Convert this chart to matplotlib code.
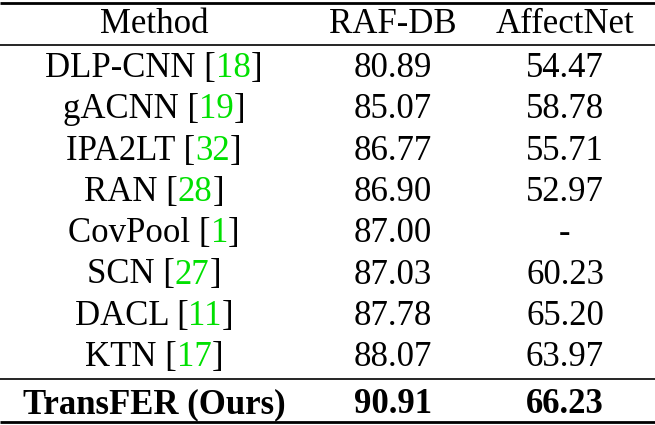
import matplotlib
matplotlib.use("Agg")
import matplotlib.pyplot as plt

# table contents
header = ["Method", "RAF-DB", "AffectNet"]
methods = ["DLP-CNN", "gACNN", "IPA2LT", "RAN", "CovPool", "SCN", "DACL", "KTN", "TransFER (Ours)"]
refs = ["18", "19", "32", "28", "1", "27", "11", "17", None]
raf_db = ["80.89", "85.07", "86.77", "86.90", "87.00", "87.03", "87.78", "88.07", "90.91"]
affectnet = ["54.47", "58.78", "55.71", "52.97", "-", "60.23", "65.20", "63.97", "66.23"]

W, H = 655, 425
col_x = [154, 393, 565]
head_y = 33
row_y0 = 77
row_dy = 41.3
last_y = 413
rules = [(3, 2.0), (45, 1.2), (379, 1.2), (422, 2.0)]
FS = 25
GREEN = "#00e000"

plt.rcParams['font.family'] = ['Liberation Serif', 'DejaVu Serif']

fig = plt.figure(figsize=(W / 100, H / 100), dpi=100)
ax = fig.add_axes([0, 0, 1, 1])
ax.set_xlim(0, W)
ax.set_ylim(H, 0)
ax.axis('off')
renderer = fig.canvas.get_renderer()

for y, lw in rules:
    ax.plot([0, W], [y, y], color='black', lw=lw, solid_capstyle='butt')

for x, h in zip(col_x, header):
    ax.text(x, head_y, h, ha='center', va='baseline', fontsize=FS)


def pieces_text(cx, y, pieces, weight):
    # lay out differently coloured parts of one cell side by side
    arts = []
    for s, c in pieces:
        t = ax.text(0, y, s, ha='left', va='baseline', fontsize=FS, color=c, fontweight=weight)
        arts.append(t)
    widths = [a.get_window_extent(renderer).width for a in arts]
    x = cx - sum(widths) / 2
    for a, w in zip(arts, widths):
        a.set_x(x)
        x += w


for i, name in enumerate(methods):
    last = refs[i] is None
    y = last_y if last else row_y0 + i * row_dy
    weight = 'bold' if last else 'normal'
    if last:
        pieces = [(name, 'black')]
    else:
        pieces = [(name + " [", 'black'), (refs[i], GREEN), ("]", 'black')]
    pieces_text(col_x[0], y, pieces, weight)
    ax.text(col_x[1], y, raf_db[i], ha='center', va='baseline', fontsize=FS, fontweight=weight)
    ax.text(col_x[2], y, affectnet[i], ha='center', va='baseline', fontsize=FS, fontweight=weight)

fig.savefig("out.png", dpi=100)
